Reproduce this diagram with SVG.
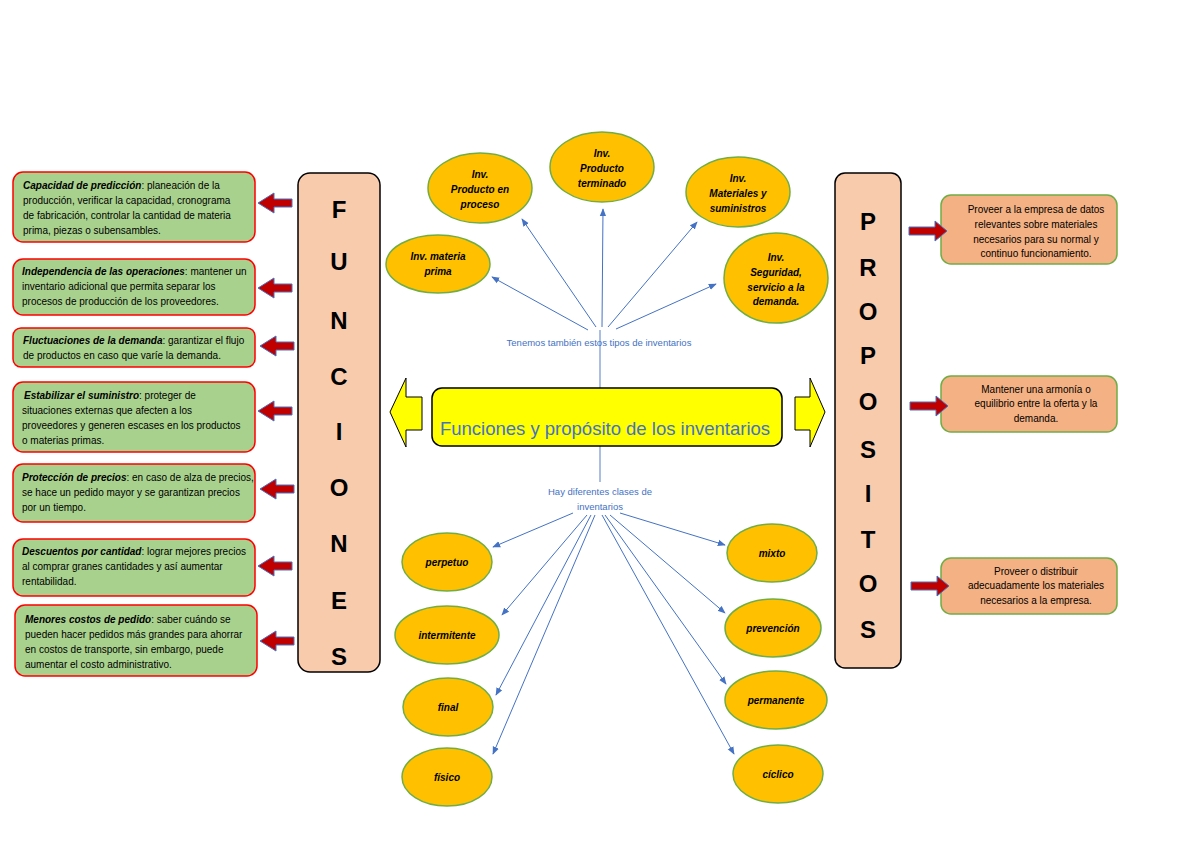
<svg xmlns="http://www.w3.org/2000/svg" width="1200" height="848" viewBox="0 0 1200 848">
<defs>
<style>
.g{fill:#a9d18e;stroke:#ff0000;stroke-width:1.5}
.o{fill:#f4b183;stroke:#70ad47;stroke-width:1.5}
.col{fill:#f8cbad;stroke:#000;stroke-width:1.5}
.el{fill:#ffc000;stroke:#70ad47;stroke-width:1.5}
.t{font-family:"Liberation Sans",Arial,sans-serif;font-size:10px;fill:#000}
.e{font-family:"Liberation Sans",Arial,sans-serif;font-size:10px;font-weight:bold;font-style:italic;fill:#000;text-anchor:middle}
.L{font-family:"Liberation Sans",Arial,sans-serif;font-size:24px;font-weight:bold;fill:#000;text-anchor:middle}
.b{font-weight:bold;font-style:italic}
.bl{font-family:"Liberation Sans",Arial,sans-serif;font-size:9.5px;fill:#4472c4;text-anchor:middle}
.ra{fill:#c00000;stroke:#4472c4;stroke-width:1}
.c{stroke:#4472c4;stroke-width:1;fill:none;marker-end:url(#m)}
</style>
<marker id="m" viewBox="0 0 10 10" refX="9" refY="5" markerWidth="8" markerHeight="8" orient="auto"><path d="M0,1 L10,5 L0,9 z" fill="#4472c4"/></marker>
<path id="la" d="M0,0 l16,-10 v6 h18 v8 h-18 v6 z" class="ra"/>
<path id="rarr" d="M0,-4 h26 v-6 l12,10 l-12,10 v-6 h-26 z" class="ra"/>
</defs>

<g id="connectors">
<line x1="600" y1="330" x2="600" y2="388" stroke="#8faadc" stroke-width="1.5"/>
<line x1="600" y1="446" x2="600" y2="482" stroke="#8faadc" stroke-width="1.5"/>
<line class="c" x1="588" y1="330" x2="492" y2="277"/>
<line class="c" x1="596" y1="327" x2="522" y2="219"/>
<line class="c" x1="602" y1="327" x2="603" y2="209"/>
<line class="c" x1="608" y1="327" x2="697" y2="222"/>
<line class="c" x1="616" y1="329" x2="716" y2="284"/>
<line class="c" x1="573" y1="513" x2="493" y2="547"/>
<line class="c" x1="587" y1="515" x2="502" y2="615"/>
<line class="c" x1="591" y1="515" x2="496" y2="695"/>
<line class="c" x1="595" y1="515" x2="493" y2="754"/>
<line class="c" x1="620" y1="513" x2="725" y2="545"/>
<line class="c" x1="610" y1="515" x2="725" y2="613"/>
<line class="c" x1="605" y1="515" x2="726" y2="684"/>
<line class="c" x1="602" y1="515" x2="734" y2="754"/>
<text class="bl" x="599" y="346">Tenemos también estos tipos de inventarios</text>
<text class="bl" x="600" y="495">Hay diferentes clases de</text>
<text class="bl" x="600" y="510">inventarios</text>
</g>

<g id="center">
<path d="M390,412 L406,378 V397 H422 V430 H406 V447 Z" fill="#ffff00" stroke="#000" stroke-width="1"/>
<path d="M825,412 L810,378 V397 H795 V430 H810 V447 Z" fill="#ffff00" stroke="#000" stroke-width="1"/>
<rect x="432" y="388" width="350" height="58" rx="10" fill="#ffff00" stroke="#000" stroke-width="1.5"/>
<text x="605" y="435" font-family="Liberation Sans,Arial,sans-serif" font-size="18.5" fill="#4472c4" text-anchor="middle">Funciones y propósito de los inventarios</text>
</g>

<g id="funciones">
<rect class="col" x="298" y="173" width="82" height="499" rx="12"/>
<text class="L" x="339" y="218">F</text><text class="L" x="339" y="270">U</text><text class="L" x="339" y="329">N</text><text class="L" x="339" y="385">C</text><text class="L" x="339" y="440">I</text><text class="L" x="339" y="496">O</text><text class="L" x="339" y="552">N</text><text class="L" x="339" y="609">E</text><text class="L" x="339" y="665">S</text>
</g>
<g id="propositos">
<rect class="col" x="835" y="173" width="66" height="495" rx="10"/>
<text class="L" x="868" y="230">P</text><text class="L" x="868" y="276">R</text><text class="L" x="868" y="320">O</text><text class="L" x="868" y="364">P</text><text class="L" x="868" y="410">O</text><text class="L" x="868" y="458">S</text><text class="L" x="868" y="502">I</text><text class="L" x="868" y="548">T</text><text class="L" x="868" y="592">O</text><text class="L" x="868" y="638">S</text>
</g>

<g id="f1"><rect class="g" x="13" y="172" width="242" height="70" rx="10"/><use href="#la" x="258" y="203"/>
<text class="t" x="23" y="189"><tspan class="b">Capacidad de predicción</tspan>: planeación de la</text><text class="t" x="23" y="204">producción, verificar la capacidad, cronograma</text><text class="t" x="23" y="219">de fabricación, controlar la cantidad de materia</text><text class="t" x="23" y="234">prima, piezas o subensambles.</text></g>
<g id="f2"><rect class="g" x="13" y="259" width="242" height="56" rx="10"/><use href="#la" x="258" y="288"/>
<text class="t" x="22" y="275"><tspan class="b">Independencia de las operaciones</tspan>: mantener un</text><text class="t" x="22" y="290">inventario adicional que permita separar los</text><text class="t" x="22" y="305">procesos de producción de los proveedores.</text></g>
<g id="f3"><rect class="g" x="13" y="328" width="242" height="39" rx="8"/><use href="#la" x="260" y="346"/>
<text class="t" x="23" y="344"><tspan class="b">Fluctuaciones de la demanda</tspan>: garantizar el flujo</text><text class="t" x="23" y="359">de productos en caso que varíe la demanda.</text></g>
<g id="f4"><rect class="g" x="13" y="382" width="242" height="70" rx="10"/><use href="#la" x="258" y="411"/>
<text class="t" x="24" y="399"><tspan class="b">Estabilizar el suministro</tspan>: proteger de</text><text class="t" x="22" y="414">situaciones externas que afecten a los</text><text class="t" x="22" y="429">proveedores y generen escases en los productos</text><text class="t" x="22" y="444">o materias primas.</text></g>
<g id="f5"><rect class="g" x="13" y="464" width="242" height="58" rx="10"/><use href="#la" x="260" y="489"/>
<text class="t" x="22" y="481"><tspan class="b">Protección de precios</tspan>: en caso de alza de precios,</text><text class="t" x="22" y="496">se hace un pedido mayor y se garantizan precios</text><text class="t" x="22" y="511">por un tiempo.</text></g>
<g id="f6"><rect class="g" x="13" y="539" width="242" height="57" rx="10"/><use href="#la" x="258" y="566"/>
<text class="t" x="22" y="555"><tspan class="b">Descuentos por cantidad</tspan>: lograr mejores precios</text><text class="t" x="22" y="570">al comprar granes cantidades y así aumentar</text><text class="t" x="22" y="585">rentabilidad.</text></g>
<g id="f7"><rect class="g" x="15" y="605" width="242" height="71" rx="10"/><use href="#la" x="260" y="641"/>
<text class="t" x="25" y="623"><tspan class="b">Menores costos de pedido</tspan>: saber cuándo se</text><text class="t" x="25" y="638">pueden hacer pedidos más grandes para ahorrar</text><text class="t" x="25" y="653">en costos de transporte, sin embargo, puede</text><text class="t" x="25" y="668">aumentar el costo administrativo.</text></g>

<g id="p1"><rect class="o" x="941" y="195" width="176" height="69" rx="10"/><use href="#rarr" x="909" y="231"/>
<text class="t" text-anchor="middle" x="1036" y="213">Proveer a la empresa de datos</text><text class="t" text-anchor="middle" x="1036" y="228">relevantes sobre materiales</text><text class="t" text-anchor="middle" x="1036" y="243">necesarios para su normal y</text><text class="t" text-anchor="middle" x="1036" y="257">continuo funcionamiento.</text></g>
<g id="p2"><rect class="o" x="941" y="376" width="176" height="56" rx="10"/><use href="#rarr" x="910" y="406"/>
<text class="t" text-anchor="middle" x="1036" y="393">Mantener una armonía o</text><text class="t" text-anchor="middle" x="1036" y="407">equilibrio entre la oferta y la</text><text class="t" text-anchor="middle" x="1036" y="422">demanda.</text></g>
<g id="p3"><rect class="o" x="941" y="558" width="176" height="56" rx="10"/><use href="#rarr" x="911" y="586"/>
<text class="t" text-anchor="middle" x="1036" y="575">Proveer o distribuir</text><text class="t" text-anchor="middle" x="1036" y="589">adecuadamente los materiales</text><text class="t" text-anchor="middle" x="1036" y="604">necesarios a la empresa.</text></g>

<g id="e1"><ellipse class="el" cx="438" cy="264" rx="52" ry="29"/><text class="e" x="438" y="260">Inv. materia</text><text class="e" x="438" y="275">prima</text></g>
<g id="e2"><ellipse class="el" cx="480" cy="188" rx="52" ry="35"/><text class="e" x="480" y="178">Inv.</text><text class="e" x="480" y="193">Producto en</text><text class="e" x="480" y="208">proceso</text></g>
<g id="e3"><ellipse class="el" cx="602" cy="167" rx="52" ry="35"/><text class="e" x="602" y="157">Inv.</text><text class="e" x="602" y="172">Producto</text><text class="e" x="602" y="187">terminado</text></g>
<g id="e4"><ellipse class="el" cx="738" cy="192" rx="52" ry="35"/><text class="e" x="738" y="182">Inv.</text><text class="e" x="738" y="197">Materiales y</text><text class="e" x="738" y="212">suministros</text></g>
<g id="e5"><ellipse class="el" cx="776" cy="278" rx="52" ry="45"/><text class="e" x="776" y="261">Inv.</text><text class="e" x="776" y="276">Seguridad,</text><text class="e" x="776" y="291">servicio a la</text><text class="e" x="776" y="305">demanda.</text></g>

<g id="b1"><ellipse class="el" cx="447" cy="562" rx="45" ry="29"/><text class="e" x="447" y="566">perpetuo</text></g>
<g id="b2"><ellipse class="el" cx="447" cy="635" rx="52" ry="29"/><text class="e" x="447" y="639">intermitente</text></g>
<g id="b3"><ellipse class="el" cx="448" cy="707" rx="45" ry="29"/><text class="e" x="448" y="711">final</text></g>
<g id="b4"><ellipse class="el" cx="447" cy="777" rx="45" ry="29"/><text class="e" x="447" y="781">físico</text></g>
<g id="b5"><ellipse class="el" cx="772" cy="553" rx="45" ry="29"/><text class="e" x="772" y="557">mixto</text></g>
<g id="b6"><ellipse class="el" cx="773" cy="628" rx="48" ry="29"/><text class="e" x="773" y="632">prevención</text></g>
<g id="b7"><ellipse class="el" cx="776" cy="700" rx="51" ry="29"/><text class="e" x="776" y="704">permanente</text></g>
<g id="b8"><ellipse class="el" cx="778" cy="774" rx="45" ry="29"/><text class="e" x="778" y="778">cíclico</text></g>
</svg>
